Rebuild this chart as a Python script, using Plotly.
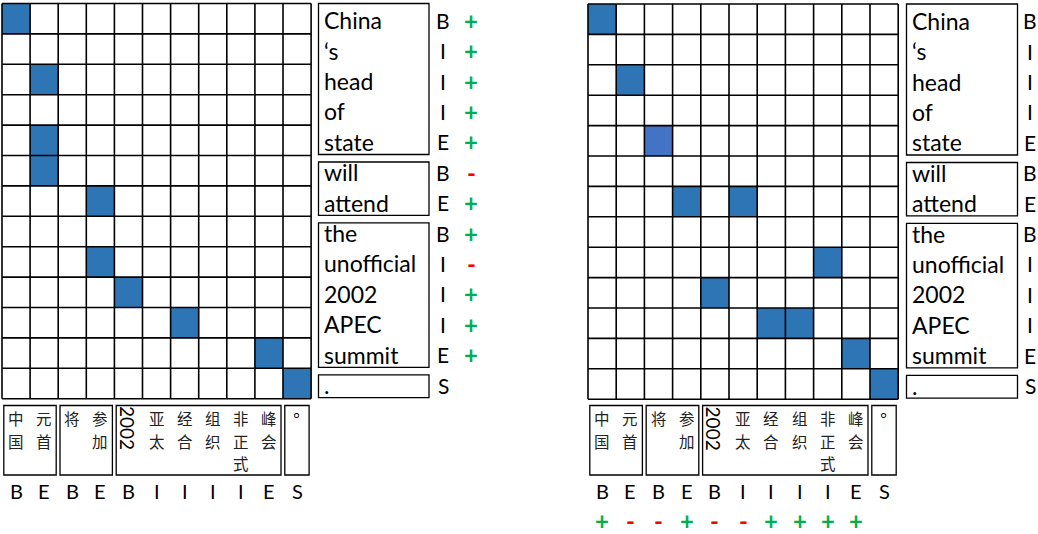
import plotly.graph_objects as go

# --- data -------------------------------------------------------------
en_words = ["China", "‘s", "head", "of", "state", "will", "attend", "the",
            "unofficial", "2002", "APEC", "summit", "."]
en_tags = ["B", "I", "I", "I", "E", "B", "E", "B", "I", "I", "I", "E", "S"]
en_signs = ["+", "+", "+", "+", "+", "-", "+", "+", "-", "+", "+", "+", ""]
en_chunks = [(0, 4), (5, 6), (7, 11), (12, 12)]

zh_words = ["中国", "元首", "将", "参加", "2002", "亚太", "经合", "组织", "非正式", "峰会", "。"]
zh_tags = ["B", "E", "B", "E", "B", "I", "I", "I", "I", "E", "S"]
zh_signs = ["+", "-", "-", "+", "-", "-", "+", "+", "+", "+", ""]
zh_chunks = [(0, 1), (2, 3), (4, 9), (10, 10)]

# aligned chinese column(s) for each english row
left_align = [[0], [], [1], [], [1], [1], [3], [], [3], [4], [6], [9], [10]]
right_align = [[0], [], [1], [], [2], [], [3, 5], [], [8], [4], [6, 7], [9], [10]]
right_light = [(4, 2)]

BLUE = "#2E75B6"
LIGHT = "#4472C4"
GREEN = "#00B050"
RED = "#FF0000"
FONT = "Lato"
CJK = "Noto Sans CJK SC"

n_rows, n_cols = len(en_words), len(zh_words)
fig = go.Figure()
shapes = []
annotations = []


def sign_note(x, y, s):
    return dict(x=x, y=y, text="<b>%s</b>" % s, showarrow=False,
                font=dict(family=FONT, size=24, color=GREEN if s == "+" else RED))


def add_panel(gx, gy, cw, rh, align, light, box_x, tag_x, sign_x, show_en_signs, show_zh_signs):
    z = [[0] * n_cols for _ in range(n_rows)]
    for r, cols in enumerate(align):
        for c in cols:
            z[r][c] = 1
    for r, c in light:
        z[r][c] = 2
    fig.add_trace(go.Heatmap(
        z=z, x0=gx + cw / 2, dx=cw, y0=gy + rh / 2, dy=rh,
        zmin=0, zmax=2, showscale=False, hoverinfo="skip",
        colorscale=[[0, "white"], [0.33, "white"], [0.33, BLUE],
                    [0.67, BLUE], [0.67, LIGHT], [1, LIGHT]]
    ))
    line = dict(color="black", width=1.6)
    for i in range(n_cols + 1):
        shapes.append(dict(type="line", x0=gx + i * cw, x1=gx + i * cw,
                           y0=gy, y1=gy + n_rows * rh, line=line))
    for j in range(n_rows + 1):
        shapes.append(dict(type="line", x0=gx, x1=gx + n_cols * cw,
                           y0=gy + j * rh, y1=gy + j * rh, line=line))

    box_line = dict(color="black", width=1.3)
    # english chunk boxes and words
    for s, e in en_chunks:
        top = gy + s * rh + (6.5 if s > 0 else 0)
        bot = gy + (e + 1) * rh - 1
        shapes.append(dict(type="rect", x0=box_x[0], x1=box_x[1], y0=top, y1=bot, line=box_line))
    for r, w in enumerate(en_words):
        yc = gy + (r + 0.5) * rh + 1.5
        annotations.append(dict(x=box_x[0] + 3, y=yc, text=w, showarrow=False,
                                xanchor="left", yanchor="middle",
                                font=dict(family=FONT, size=23, color="black")))
        annotations.append(dict(x=tag_x, y=yc, text=en_tags[r], showarrow=False,
                                font=dict(family=FONT, size=21, color="black")))
        if show_en_signs and en_signs[r]:
            annotations.append(sign_note(sign_x, yc, en_signs[r]))

    # chinese chunk boxes and words (written top to bottom)
    for s, e in zh_chunks:
        shapes.append(dict(type="rect", x0=gx + s * cw + 1.8, x1=gx + (e + 1) * cw - 2,
                           y0=405.5, y1=475, line=box_line))
    for c, w in enumerate(zh_words):
        xc = gx + (c + 0.5) * cw
        if w == "2002":
            annotations.append(dict(x=xc - 1, y=428.5, text=w, textangle=90, showarrow=False,
                                    font=dict(family=FONT, size=19, color="black")))
        elif w == "。":
            annotations.append(dict(x=xc - 1, y=414, text=w, showarrow=False,
                                    font=dict(family="Noto Sans CJK TC", size=17, color="black")))
        else:
            for k, ch in enumerate(w):
                annotations.append(dict(x=xc, y=418 + 22.5 * k, text=ch, showarrow=False,
                                        font=dict(family=CJK, size=15.5, color="#222222")))
        annotations.append(dict(x=xc, y=490.5, text=zh_tags[c], showarrow=False,
                                font=dict(family=FONT, size=20, color="black")))
        if show_zh_signs and zh_signs[c]:
            annotations.append(sign_note(xc, 520, zh_signs[c]))


add_panel(2, 3.5, 28.1, 30.4, left_align, [], (318.5, 429), 443, 471, True, False)
add_panel(588, 4, 28.2, 30.4, right_align, right_light, (906.5, 1017.5), 1030, None, False, True)

fig.update_layout(
    width=1038, height=534,
    margin=dict(l=0, r=0, t=0, b=0),
    paper_bgcolor="white", plot_bgcolor="white",
    xaxis=dict(range=[0, 1038], visible=False, fixedrange=True),
    yaxis=dict(range=[534, 0], visible=False, fixedrange=True),
    shapes=shapes, annotations=annotations,
    showlegend=False,
)

# drop the default page margin so the figure sits at the window's corner
fig.write_html("out.html", config={"displayModeBar": False},
               post_script="document.body.style.margin='0';document.body.style.overflow='hidden';")
